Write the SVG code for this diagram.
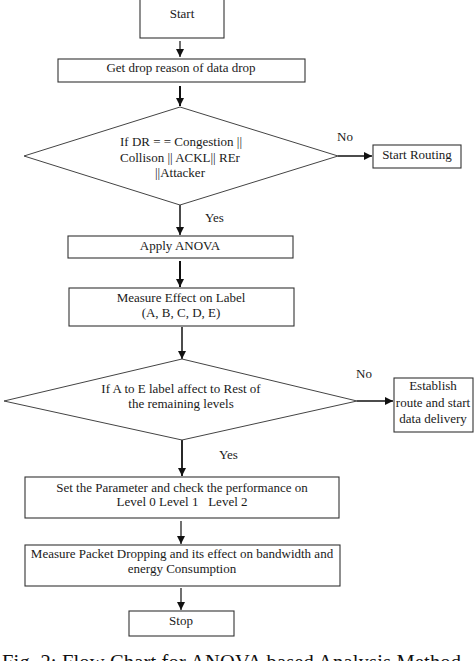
<svg xmlns="http://www.w3.org/2000/svg" width="474" height="661" viewBox="0 0 474 661">
<defs>
<style>
.box{fill:#fff;stroke:#333;stroke-width:1.1}
.dia{fill:#fff;stroke:#444;stroke-width:1}
.t{font-family:"Liberation Serif","Times New Roman",serif;font-size:13px;fill:#1a1a1a;text-anchor:middle}
.lbl{font-family:"Liberation Serif","Times New Roman",serif;font-size:13px;fill:#1a1a1a}
.c{stroke:#111;fill:none}
</style>
<marker id="ah" viewBox="0 0 10 10" refX="10" refY="5" markerWidth="8" markerHeight="8" markerUnits="userSpaceOnUse" orient="auto">
<path d="M0,0 L10,5 L0,10 Z" fill="#111"/>
</marker>
</defs>
<rect width="474" height="661" fill="#fff"/>
<g id="connectors">
<line class="c" x1="180" y1="41" x2="180" y2="57" stroke-width="1.2" marker-end="url(#ah)"/>
<line class="c" x1="180" y1="86" x2="180" y2="106" stroke-width="2" marker-end="url(#ah)"/>
<line class="c" x1="338" y1="156" x2="372" y2="156" stroke-width="1.5" marker-end="url(#ah)"/>
<line class="c" x1="180" y1="205" x2="180" y2="235" stroke-width="1.5" marker-end="url(#ah)"/>
<line class="c" x1="180" y1="261" x2="180" y2="287" stroke-width="2" marker-end="url(#ah)"/>
<line class="c" x1="182" y1="327" x2="182" y2="359" stroke-width="1.5" marker-end="url(#ah)"/>
<line class="c" x1="357" y1="401" x2="393" y2="401" stroke-width="1.5" marker-end="url(#ah)"/>
<line class="c" x1="182" y1="440" x2="182" y2="476" stroke-width="1.8" marker-end="url(#ah)"/>
<line class="c" x1="181" y1="521" x2="181" y2="544" stroke-width="1.2" marker-end="url(#ah)"/>
<line class="c" x1="181" y1="588" x2="181" y2="610" stroke-width="1.2" marker-end="url(#ah)"/>
<text class="lbl" x="337" y="141">No</text>
<text class="lbl" x="205" y="222">Yes</text>
<text class="lbl" x="356" y="378">No</text>
<text class="lbl" x="219" y="459">Yes</text>
</g>
<g id="start">
<rect class="box" x="140" y="-1" width="84" height="39" stroke-width="1.6"/>
<text class="t" x="182" y="17.5">Start</text>
</g>
<g id="getDrop">
<rect class="box" x="58" y="59" width="247" height="23"/>
<text class="t" x="181" y="72">Get drop reason of data drop</text>
</g>
<g id="decision1">
<polygon class="dia" points="180,107 338,156 180,205 24,156"/>
<text class="t" x="181" y="146">If DR = = Congestion ||</text>
<text class="t" x="180" y="162">Collison || ACKL|| REr</text>
<text class="t" x="180" y="177">||Attacker</text>
</g>
<g id="startRouting">
<rect class="box" x="373" y="145" width="88" height="23"/>
<text class="t" x="417" y="159">Start Routing</text>
</g>
<g id="applyAnova">
<rect class="box" x="68" y="236" width="225" height="22"/>
<text class="t" x="180" y="250">Apply ANOVA</text>
</g>
<g id="measureEffect">
<rect class="box" x="69" y="288" width="225" height="38"/>
<text class="t" x="181" y="301.5">Measure Effect on Label</text>
<text class="t" x="181" y="317">(A, B, C, D, E)</text>
</g>
<g id="decision2">
<polygon class="dia" points="182,359 357,401 182,440 4,401"/>
<text class="t" x="181" y="393">If A to E label affect to Rest of</text>
<text class="t" x="181" y="407.5">the remaining levels</text>
</g>
<g id="establish">
<rect class="box" x="394" y="378" width="79" height="54"/>
<text class="t" x="433" y="390">Establish</text>
<text class="t" x="433" y="406.5">route and start</text>
<text class="t" x="433" y="423">data delivery</text>
</g>
<g id="setParam">
<rect class="box" x="25" y="477" width="314" height="41"/>
<text class="t" x="182" y="491.5">Set the Parameter and check the performance on</text>
<text class="t" x="182" y="506" xml:space="preserve">Level 0 Level 1   Level 2</text>
</g>
<g id="measurePacket">
<rect class="box" x="25" y="545" width="315" height="41"/>
<text class="t" x="182" y="558">Measure Packet Dropping and its effect on bandwidth and</text>
<text class="t" x="182" y="572.5">energy Consumption</text>
</g>
<g id="stop">
<rect class="box" x="129" y="611" width="105" height="25"/>
<text class="t" x="181" y="624.5">Stop</text>
</g>
<text x="2" y="669" font-family="Liberation Serif, Times New Roman, serif" font-size="20.5" fill="#111" textLength="459" lengthAdjust="spacing">Fig. 2: Flow Chart for ANOVA based Analysis Method</text>
</svg>
